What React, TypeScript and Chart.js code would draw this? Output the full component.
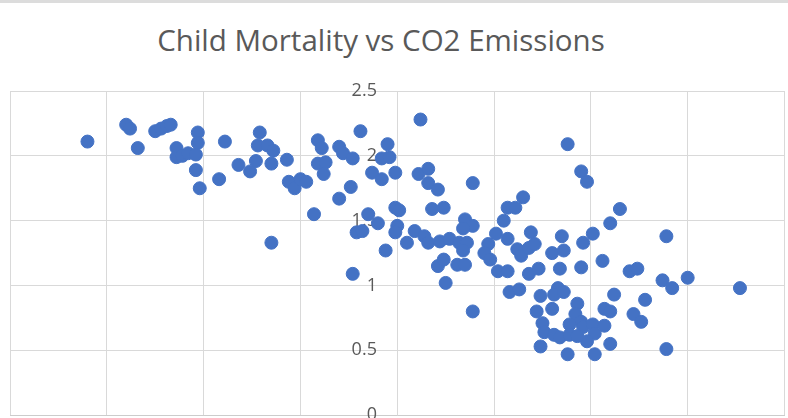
import React, { useEffect, useRef } from "react";
import { Chart, registerables } from "chart.js";

Chart.register(...registerables);

// log10 CO2 emissions per person (x) against log10 child mortality (y)
const co2Log: number[] = [
  -1.6, -1.4, -1.38, -1.34, -1.25, -1.22, -1.19, -1.17, -1.03, -1.03,
  -1.14, -1.14, -1.11, -1.08, -1.04, -1.04, -1.02, -0.92, -0.89, -0.82,
  -0.76, -0.73, -0.71, -0.72, -0.67, -0.64, -0.65, -0.57, -0.56, -0.53,
  -0.5, -0.47, -0.41, -0.39, -0.41, -0.37, -0.38, -0.3, -0.28, -0.23,
  -0.24, -0.3, -0.43, -0.65, -0.19, -0.05, -0.08, -0.04, -0.13, -0.08,
  -0.01, -0.15, -0.1, -0.21, -0.18, -0.01, 0.01, 0.0, -0.01, -0.06,
  0.05, 0.09, -0.23, 0.12, 0.11, 0.16, 0.16, 0.21, 0.39, 0.18,
  0.24, 0.35, 0.39, 0.34, 0.14, 0.16, 0.22, 0.27, 0.32, 0.36,
  0.34, 0.21, 0.24, 0.31, 0.35, 0.25, 0.65, 0.57, 0.61, 0.55,
  0.51, 0.47, 0.45, 0.48, 0.57, 0.62, 0.64, 0.68, 0.69, 0.71,
  0.52, 0.57, 0.68, 0.73, 0.8, 0.84, 0.88, 0.95, 0.98, 0.85,
  1.01, 0.96, 1.15, 1.1, 1.39, 0.39, 0.58, 0.63, 0.74, 0.72,
  0.8, 0.83, 0.75, 0.76, 0.81, 0.84, 0.74, 0.81, 0.86, 0.93,
  0.92, 0.95, 0.96, 0.89, 0.89, 1.01, 1.02, 0.98, 0.93, 0.88,
  1.02, 1.1, 1.07, 1.07, 1.1, 1.12, 1.22, 1.26, 0.86, 0.95,
  1.06, 1.2, 1.24, 1.28, 1.37, 1.42, 1.5, 1.77, 1.39,
];

const mortalityLog: number[] = [
  2.11, 2.24, 2.21, 2.06, 2.19, 2.21, 2.23, 2.24, 2.18, 2.1,
  2.06, 1.99, 2.0, 2.02, 2.01, 1.89, 1.75, 1.82, 2.11, 1.93,
  1.88, 1.96, 2.18, 2.08, 2.08, 2.04, 1.94, 1.97, 1.8, 1.75,
  1.82, 1.8, 2.12, 2.06, 1.94, 1.95, 1.86, 2.07, 2.02, 1.98,
  1.76, 1.67, 1.55, 1.33, 2.19, 2.09, 1.98, 1.99, 1.87, 1.82,
  1.87, 1.55, 1.48, 1.41, 1.42, 1.6, 1.58, 1.46, 1.41, 1.27,
  1.33, 1.42, 1.09, 2.28, 1.86, 1.9, 1.79, 1.74, 1.79, 1.59,
  1.6, 1.51, 1.46, 1.44, 1.38, 1.33, 1.34, 1.36, 1.33, 1.33,
  1.27, 1.15, 1.2, 1.16, 1.16, 1.02, 1.68, 1.6, 1.6, 1.5,
  1.4, 1.32, 1.25, 1.2, 1.36, 1.28, 1.23, 1.29, 1.41, 1.32,
  1.11, 1.11, 1.09, 1.13, 1.25, 1.13, 2.09, 1.88, 1.8, 1.38,
  1.4, 1.33, 1.59, 1.48, 1.38, 0.8, 0.95, 0.97, 0.92, 0.8,
  0.82, 0.98, 0.71, 0.64, 0.62, 0.6, 0.53, 0.93, 0.95, 0.86,
  0.78, 0.72, 0.68, 0.7, 0.62, 0.7, 0.63, 0.57, 0.61, 0.47,
  0.47, 0.55, 0.69, 0.82, 0.8, 0.93, 0.78, 0.72, 1.27, 1.14,
  1.19, 1.11, 1.13, 0.89, 1.04, 0.98, 1.06, 0.98, 0.51,
];

const yTicks: number[] = [0, 0.5, 1, 1.5, 2, 2.5];
const xTicks: number[] = [-2, -1.5, -1, -0.5, 0, 0.5, 1, 1.5, 2];

const chartTitle = "Child Mortality vs CO2 Emissions";

export default function App() {
  const canvasRef = useRef<HTMLCanvasElement | null>(null);

  useEffect(() => {
    if (!canvasRef.current) return;
    const points = co2Log.map((x, i) => ({ x, y: mortalityLog[i] }));
    const chart = new Chart(canvasRef.current, {
      type: "scatter",
      data: {
        datasets: [
          {
            data: points,
            backgroundColor: "#4472C4",
            borderColor: "#4472C4",
            borderWidth: 1,
            pointRadius: 6.5,
          },
        ],
      },
      options: {
        responsive: false,
        animation: false,
        layout: { padding: { top: 91, left: 10, right: 0, bottom: 5 } },
        plugins: {
          legend: { display: false },
          tooltip: { enabled: false },
          title: { display: false },
        },
        scales: {
          x: {
            type: "linear",
            position: "bottom",
            min: xTicks[0],
            max: xTicks[xTicks.length - 1],
            afterBuildTicks: (scale: any) => {
              scale.ticks = xTicks.map((value) => ({ value }));
            },
            ticks: { display: false },
            grid: { color: "#d9d9d9", lineWidth: 1, drawTicks: false },
            border: { color: "#cccccc", width: 1 },
          },
          y: {
            type: "linear",
            // labels sit just left of the x = 0 gridline
            position: { x: -0.105 },
            min: yTicks[0],
            max: yTicks[yTicks.length - 1],
            afterBuildTicks: (scale: any) => {
              scale.ticks = yTicks.map((value) => ({ value }));
            },
            ticks: {
              color: "#595959",
              font: { family: "'Open Sans', sans-serif", size: 18 },
              callback: (v: any) => String(v),
            },
            grid: { color: "#d9d9d9", lineWidth: 1, drawTicks: false },
            border: { display: false },
          },
        },
      },
    });
    return () => chart.destroy();
  }, []);

  return (
    <div
      style={{
        position: "fixed",
        left: 0,
        top: 0,
        width: 788,
        height: 418,
        background: "#ffffff",
        overflow: "hidden",
      }}
    >
      <div
        style={{
          position: "absolute",
          left: 0,
          top: 0,
          width: 788,
          height: 3,
          background: "#dcdcdc",
        }}
      />
      <div
        style={{
          position: "absolute",
          left: 0,
          top: 22,
          width: 762,
          textAlign: "center",
          fontFamily: "'Open Sans', sans-serif",
          fontSize: 29.5,
          lineHeight: "36px",
          color: "#595959",
        }}
      >
        {chartTitle}
      </div>
      <canvas
        ref={canvasRef}
        width={792}
        height={429}
        style={{ position: "absolute", left: 0, top: 0, width: 792, height: 429 }}
      />
    </div>
  );
}
